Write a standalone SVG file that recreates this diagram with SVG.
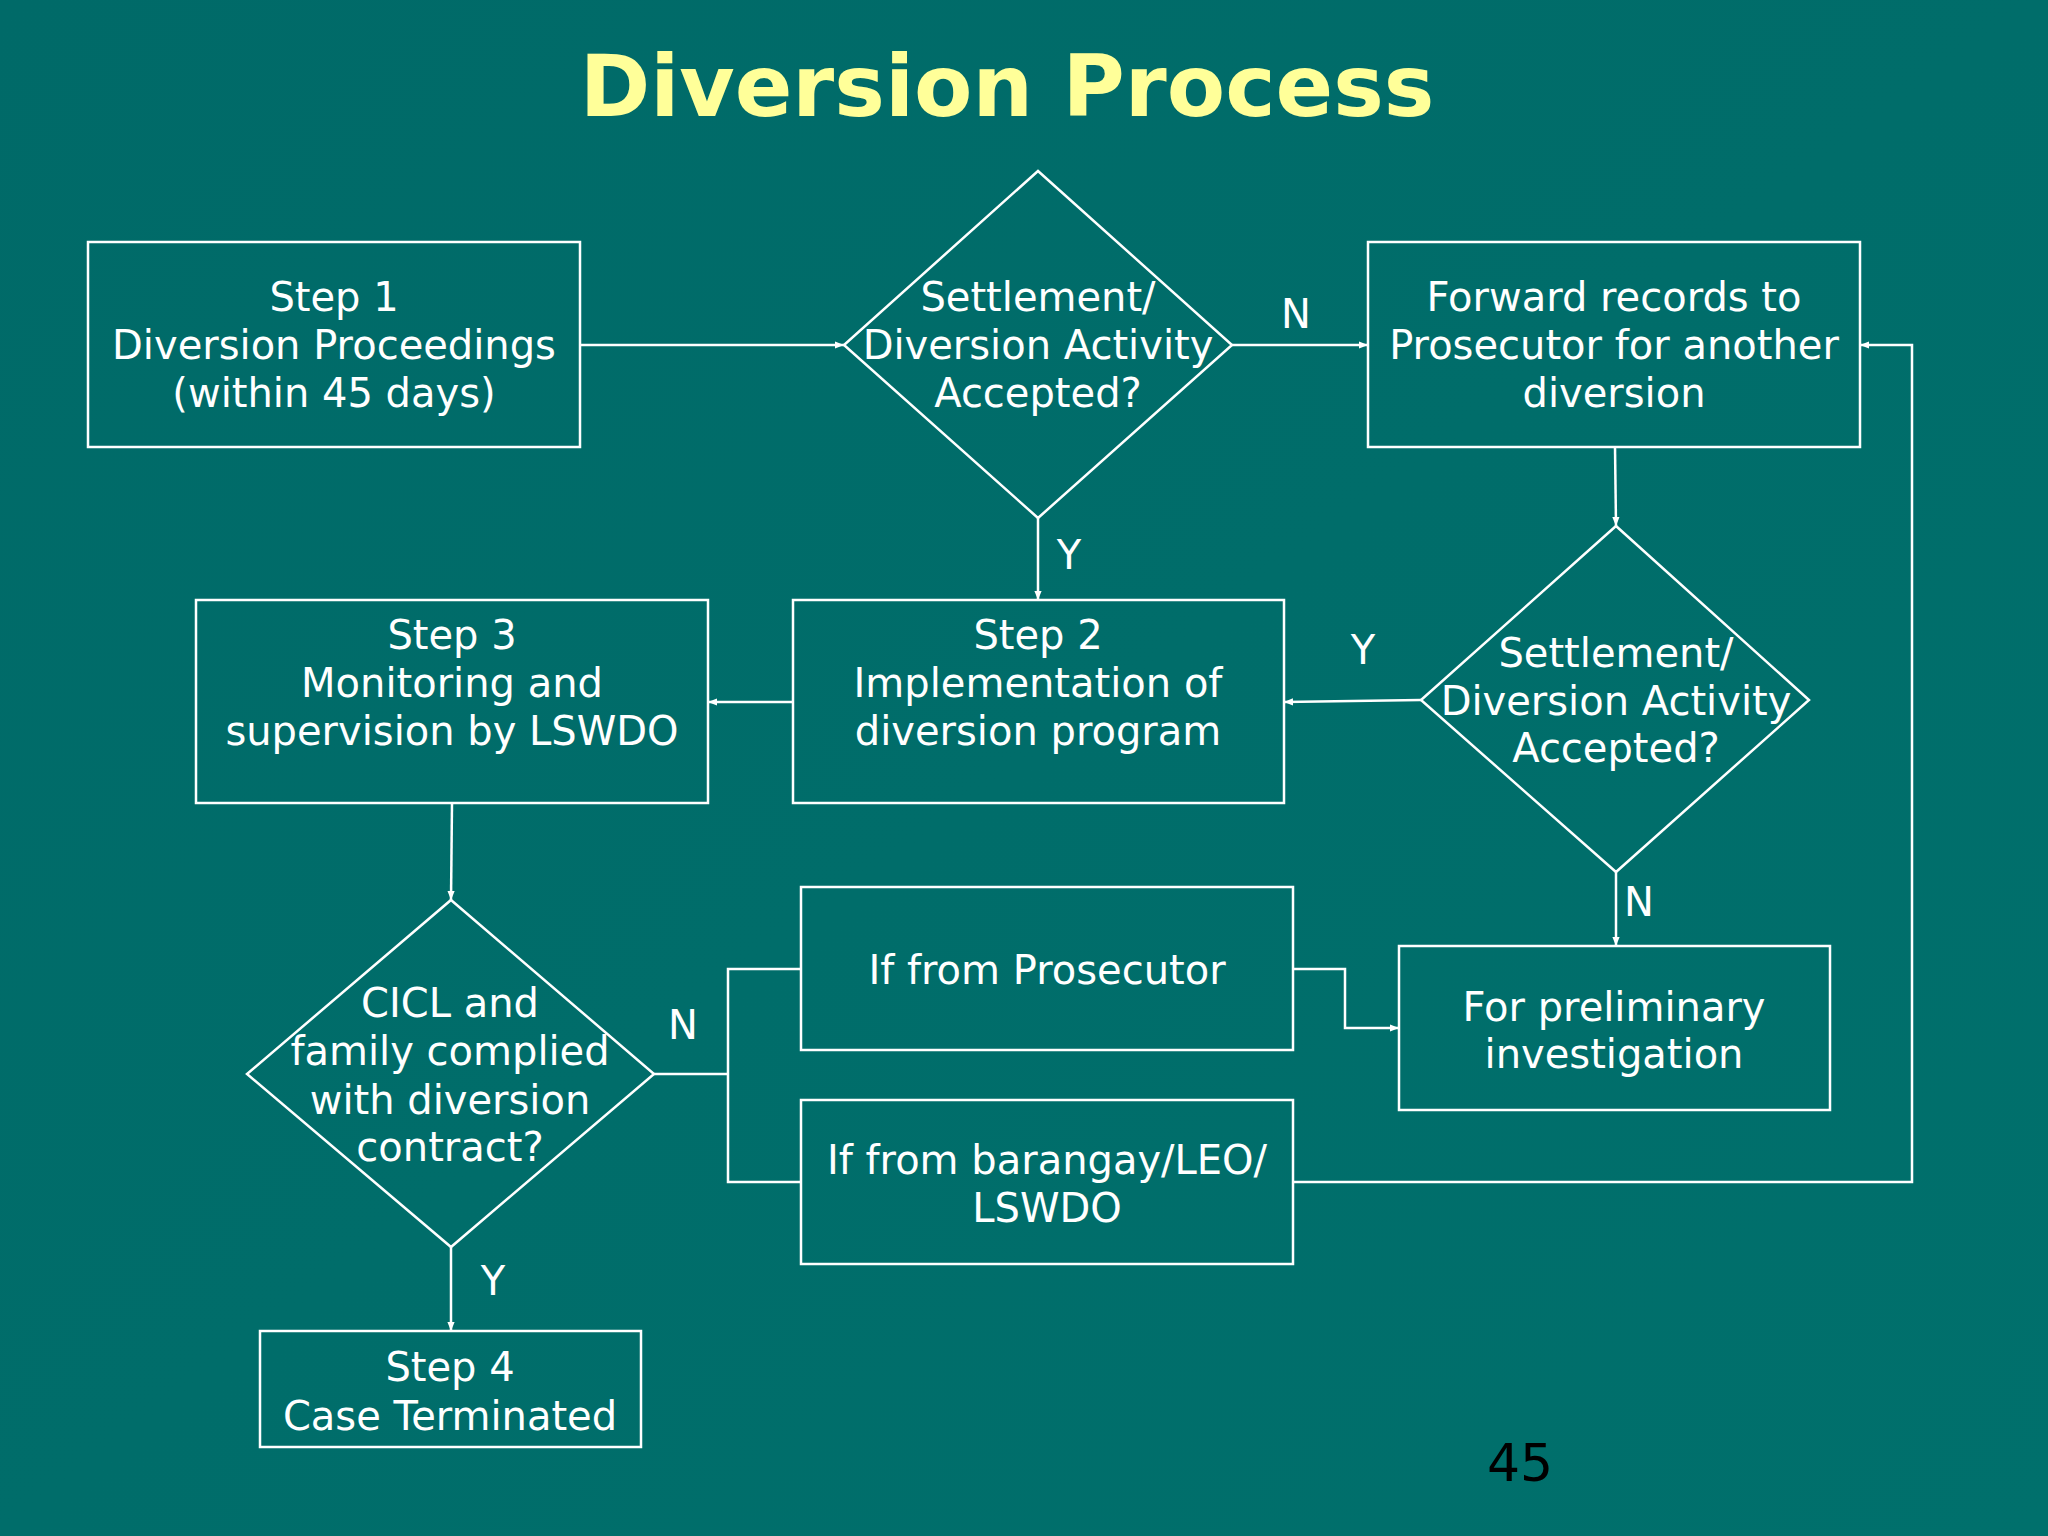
<svg xmlns="http://www.w3.org/2000/svg" width="2048" height="1536" viewBox="0 0 2048 1536">
<defs>
<linearGradient id="bg" x1="0" y1="0" x2="1" y2="1">
<stop offset="0" stop-color="#006a68"/><stop offset="1" stop-color="#00706c"/>
</linearGradient>
<marker id="ar" viewBox="0 0 10 10" refX="10" refY="5" markerWidth="9" markerHeight="9" markerUnits="userSpaceOnUse" orient="auto">
<path d="M0,1 L10,5 L0,9 z" fill="#fff"/>
</marker>
<style>
.s{fill:none;stroke:#fff;stroke-width:2.5}
.t{font-family:"DejaVu Sans",Verdana,sans-serif;font-size:40px;fill:#fff;text-anchor:middle;dominant-baseline:central}
.c{fill:none;stroke:#fff;stroke-width:2.5}
.a{marker-end:url(#ar)}
</style>
</defs>
<rect width="2048" height="1536" fill="url(#bg)"/>
<text x="1007" y="116" font-family="DejaVu Sans,Verdana,sans-serif" font-weight="bold" font-size="85" fill="#ffff99" text-anchor="middle">Diversion Process</text>
<g id="step1"><rect class="s" x="88" y="242" width="492" height="205"/><text class="t" x="334"><tspan x="334" y="297">Step 1</tspan><tspan x="334" y="345">Diversion Proceedings</tspan><tspan x="334" y="393">(within 45 days)</tspan></text></g>
<g id="d1"><polygon class="s" points="1038,171 1232,345 1038,518 844,345"/><text class="t"><tspan x="1038" y="297">Settlement/</tspan><tspan x="1038" y="345">Diversion Activity</tspan><tspan x="1038" y="393">Accepted?</tspan></text></g>
<g id="forward"><rect class="s" x="1368" y="242" width="492" height="205"/><text class="t"><tspan x="1614" y="297">Forward records to</tspan><tspan x="1614" y="345">Prosecutor for another</tspan><tspan x="1614" y="393">diversion</tspan></text></g>
<g id="d2"><polygon class="s" points="1616,526 1809,700 1616,872 1421,700"/><text class="t"><tspan x="1616" y="653">Settlement/</tspan><tspan x="1616" y="701">Diversion Activity</tspan><tspan x="1616" y="748">Accepted?</tspan></text></g>
<g id="step3"><rect class="s" x="196" y="600" width="512" height="203"/><text class="t"><tspan x="452" y="635">Step 3</tspan><tspan x="452" y="683">Monitoring and</tspan><tspan x="452" y="731">supervision by LSWDO</tspan></text></g>
<g id="step2"><rect class="s" x="793" y="600" width="491" height="203"/><text class="t"><tspan x="1038" y="635">Step 2</tspan><tspan x="1038" y="683">Implementation of</tspan><tspan x="1038" y="731">diversion program</tspan></text></g>
<g id="d3"><polygon class="s" points="451,900 654,1074 451,1247 247,1074"/><text class="t"><tspan x="450" y="1003">CICL and</tspan><tspan x="450" y="1051">family complied</tspan><tspan x="450" y="1100">with diversion</tspan><tspan x="450" y="1147">contract?</tspan></text></g>
<g id="prosecutor"><rect class="s" x="801" y="887" width="492" height="163"/><text class="t" x="1047" y="970">If from Prosecutor</text></g>
<g id="barangay"><rect class="s" x="801" y="1100" width="492" height="164"/><text class="t"><tspan x="1047" y="1160">If from barangay/LEO/</tspan><tspan x="1047" y="1208">LSWDO</tspan></text></g>
<g id="prelim"><rect class="s" x="1399" y="946" width="431" height="164"/><text class="t"><tspan x="1614" y="1007">For preliminary</tspan><tspan x="1614" y="1054">investigation</tspan></text></g>
<g id="step4"><rect class="s" x="260" y="1331" width="381" height="116"/><text class="t"><tspan x="450" y="1367">Step 4</tspan><tspan x="450" y="1416">Case Terminated</tspan></text></g>
<g id="connectors">
<line class="c a" x1="580" y1="345" x2="844" y2="345"/>
<line class="c a" x1="1232" y1="345" x2="1368" y2="345"/>
<line class="c a" x1="1038" y1="518" x2="1038" y2="600"/>
<line class="c a" x1="1615" y1="447" x2="1616" y2="526"/>
<line class="c a" x1="1421" y1="700" x2="1284" y2="702"/>
<line class="c a" x1="793" y1="702" x2="708" y2="702"/>
<line class="c a" x1="452" y1="803" x2="451" y2="900"/>
<line class="c a" x1="1616" y1="872" x2="1616" y2="946"/>
<polyline class="c" points="654,1074 728,1074"/>
<polyline class="c" points="801,969 728,969 728,1182 801,1182"/>
<polyline class="c a" points="1293,969 1345,969 1345,1028 1399,1028"/>
<polyline class="c a" points="1293,1182 1912,1182 1912,345 1860,345"/>
<line class="c a" x1="451" y1="1247" x2="451" y2="1331"/>
<text class="t" x="1296" y="314">N</text>
<text class="t" x="1069" y="555">Y</text>
<text class="t" x="1363" y="650">Y</text>
<text class="t" x="1639" y="902">N</text>
<text class="t" x="683" y="1025">N</text>
<text class="t" x="493" y="1281">Y</text>
</g>
<text x="1520" y="1463" font-family="DejaVu Sans,Verdana,sans-serif" font-size="52" fill="#000" text-anchor="middle" dominant-baseline="central">45</text>
</svg>
